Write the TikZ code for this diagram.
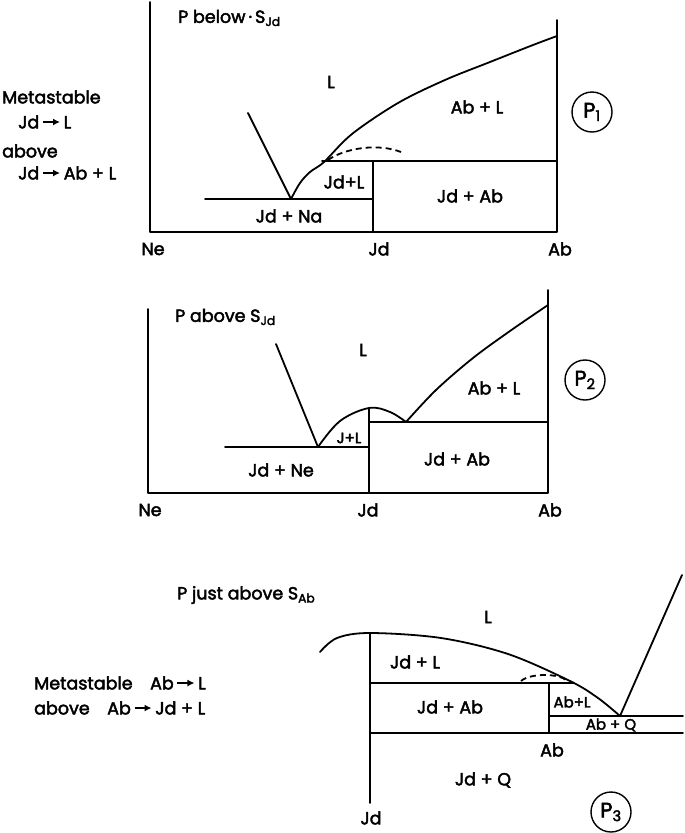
\documentclass[tikz,border=0pt]{standalone}
\usepackage{fontspec}
\setmainfont{Poppins}[FakeBold=2.5]
\usetikzlibrary{arrows.meta}
\newcommand{\rarr}{\,\raisebox{0.3ex}{\tikz\draw[line width=1.6pt,-{Latex[length=7pt,width=7pt]}] (0,0)--(17pt,0);}\,}
\tikzset{
  phase/.style={line width=1.8pt, line cap=round, line join=round},
  lbl/.style={font=\fontsize{17.5}{19}\selectfont, inner sep=0pt},
  sml/.style={font=\fontsize{15}{17}\selectfont, inner sep=0pt},
  plab/.style={draw, circle, line width=1.4pt, minimum size=40pt, inner sep=0pt, font=\fontsize{21}{23}\selectfont},
  dashline/.style={line width=1.8pt, dash pattern=on 6pt off 4pt}
}
\begin{document}
\begin{tikzpicture}[x=1pt,y=-1pt]
\useasboundingbox (0,0) rectangle (685,833);
% ---------- Panel 1 ----------
\draw[phase] (150,2)--(150,232)--(557,232)--(557,20);
\draw[phase] (373,161)--(373,232);
\draw[phase] (322,161)--(557,161);
\draw[phase] (205,199)--(373,199);
\draw[phase] (248,113)--(291,199);
\draw[phase] plot[smooth,tension=0.55] coordinates {(291,199) (300,183) (310,172) (324,162) (352,134) (398,103) (445,80) (490,62) (533,45) (557,36)};
\draw[dashline] (328,160) .. controls (345,148) and (378,143) .. (401,152);
\node[lbl,anchor=west] (t1) at (178,18) {P below\,·\,S\textsubscript{Jd}};
\node[lbl] (l1) at (331,82) {L};
\node[lbl] (abl1) at (477,107) {Ab + L};
\node[lbl] (jdl1) at (344,182) {Jd+L};
\node[lbl] (jdab1) at (470,196) {Jd + Ab};
\node[lbl] (jdna1) at (289,216) {Jd + Na};
\node[lbl] (ne1) at (153,249) {Ne};
\node[lbl] (jd1) at (379,249) {Jd};
\node[lbl] (ab1) at (560,249) {Ab};
\node[plab] (p1) at (592,112) {P\textsubscript{1}};
\node[lbl,anchor=west] (m1) at (2,97) {Metastable};
\node[lbl,anchor=west] (m2) at (18,122) {Jd\rarr L};
\node[lbl,anchor=west] (m3) at (2,151) {above};
\node[lbl,anchor=west] (m4) at (18,173) {Jd\rarr Ab + L};
% ---------- Panel 2 ----------
\draw[phase] (148,309)--(148,493)--(548,493)--(548,290);
\draw[phase] (369,408)--(369,493);
\draw[phase] (369,422)--(548,422);
\draw[phase] (225,447)--(369,447);
\draw[phase] (276,344)--(318,447);
\draw[phase] plot[smooth,tension=0.6] coordinates {(318,447) (340,421) (369,408) (390,412) (406,422)};
\draw[phase] plot[smooth,tension=0.55] coordinates {(406,422) (436,390) (473,358) (510,331) (548,305)};
\node[lbl,anchor=west] (t2) at (175,317) {P above S\textsubscript{Jd}};
\node[lbl] (l2) at (363,350) {L};
\node[lbl] (abl2) at (494,388) {Ab + L};
\node[sml] (jl2) at (349,438) {J+L};
\node[lbl] (jdab2) at (457,459) {Jd + Ab};
\node[lbl] (jdne2) at (281,470) {Jd + Ne};
\node[lbl] (ne2) at (150,510) {Ne};
\node[lbl] (jd2) at (368,510) {Jd};
\node[lbl] (ab2) at (550,510) {Ab};
\node[plab] (p2) at (585,380) {P\textsubscript{2}};
% ---------- Panel 3 ----------
\draw[phase] (370,633)--(370,803);
\draw[phase] plot[smooth,tension=0.55] coordinates {(320,652) (337,638) (370,633) (441,638) (508,654) (570,681) (598,698) (620,716)};
\draw[phase] (370,683)--(574,683);
\draw[phase] (549,683)--(549,733);
\draw[phase] (549,716)--(683,716);
\draw[phase] (370,733)--(683,733);
\draw[phase] (620,716)--(682,575);
\draw[dashline] (521,681) .. controls (530,673) and (560,673) .. (567,681);
\node[lbl,anchor=west] (t3) at (177,595) {P just above S\textsubscript{Ab}};
\node[lbl] (l3) at (488,617) {L};
\node[lbl] (jdl3) at (415,662) {Jd + L};
\node[lbl] (jdab3) at (450,707) {Jd + Ab};
\node[sml] (abl3) at (572,702) {Ab+L};
\node[sml] (abq3) at (611,725) {Ab + Q};
\node[lbl] (ab3) at (552,750) {Ab};
\node[lbl] (jdq3) at (483,780) {Jd + Q};
\node[lbl] (jd3) at (371,818) {Jd};
\node[plab] (p3) at (611,812) {P\textsubscript{3}};
\node[lbl,anchor=west] (m5) at (34,683) {Metastable\quad Ab\rarr L};
\node[lbl,anchor=west] (m6) at (34,708) {above\quad Ab\rarr Jd + L};
\end{tikzpicture}
\end{document}
